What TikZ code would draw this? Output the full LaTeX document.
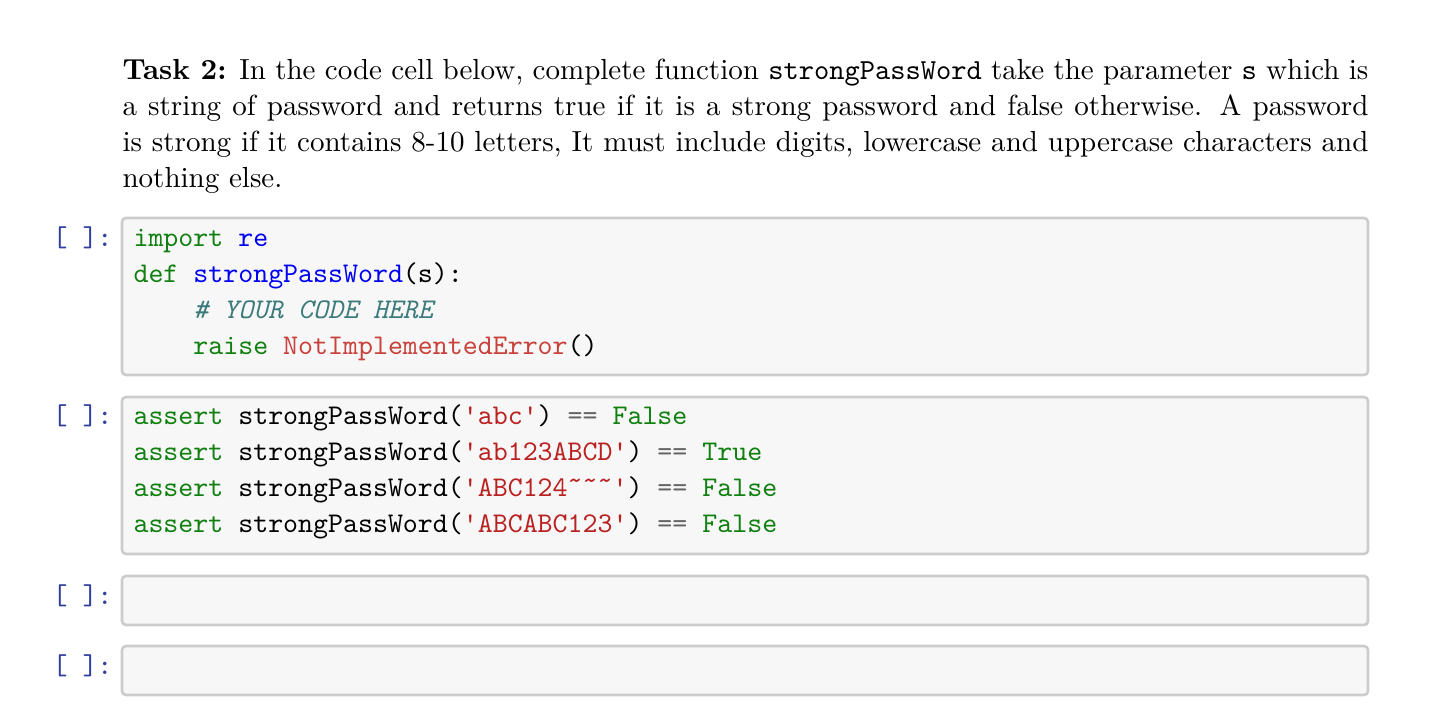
\documentclass[tikz,border=0pt]{standalone}
\usepackage{xcolor}
\definecolor{incolor}{HTML}{303F9F}
\definecolor{pykw}{HTML}{108010}
\definecolor{pynm}{HTML}{0000F0}
\definecolor{pycm}{HTML}{3D7B7B}
\definecolor{pyex}{HTML}{C8413A}
\definecolor{pyst}{HTML}{BA2121}
\definecolor{pyop}{HTML}{666666}
\definecolor{cellbg}{HTML}{F7F7F7}
\definecolor{cellbd}{HTML}{CCCCCC}
\newcommand\pyK[1]{\textcolor{pykw}{#1}}
\newcommand\pyN[1]{\textcolor{pynm}{#1}}
\newcommand\pyC[1]{\textcolor{pycm}{\itshape #1}}
\newcommand\pyE[1]{\textcolor{pyex}{#1}}
\newcommand\pyS[1]{\textcolor{pyst}{#1}}
\newcommand\pyO[1]{\textcolor{pyop}{#1}}
\newcommand\pyQ{\textquotesingle}
\newcommand\pyT{\raisebox{0.28em}{\textasciitilde}}
\begin{document}
\begin{tikzpicture}[x=0.377pt,y=-0.377pt,
  bodytext/.style={anchor=base west, inner sep=0pt, text width=469.7pt, align=justify, font=\fontsize{10.95}{13.6}\selectfont},
  code/.style={anchor=base west, inner sep=0pt, font=\fontsize{10.75}{13.6}\selectfont\ttfamily},
  prompt/.style={anchor=base east, inner sep=0pt, text=incolor, font=\fontsize{10.75}{13.6}\selectfont\ttfamily},
  cell/.style={draw=cellbd, fill=cellbg, line width=1pt, rounded corners=1.5pt}]
\useasboundingbox (0,0) rectangle (1450,714);
\fill[white] (0,0) rectangle (1450,714);

\node[bodytext] (task) at (122,79.3) {\textbf{Task 2:} In the code cell below, complete function \texttt{strongPassWord} take the parameter \texttt{s} which is a string of password and returns true if it is a strong password and false otherwise. A password is strong if it contains 8-10 letters, It must include digits, lowercase and uppercase characters and nothing else.};

% cell 1
\draw[cell] (122,218) rectangle (1368,375);
\node[prompt] (p1) at (113,247) {[ ]:};
\node[code] (l11) at (133,247) {\pyK{import} \pyN{re}};
\node[code] (l12) at (133,283) {\pyK{def} \pyN{strongPassWord}(s):};
\node[code] (l13) at (133,319) {\phantom{0000}\pyC{\#{} YOUR CODE HERE}};
\node[code] (l14) at (133,355) {\phantom{0000}\pyK{raise} \pyE{NotImplementedError}()};

% cell 2
\draw[cell] (122,397) rectangle (1368,554);
\node[prompt] (p2) at (113,425) {[ ]:};
\node[code] (l21) at (133,425) {\pyK{assert} strongPassWord(\pyS{\pyQ abc\pyQ}) \pyO{==} \pyK{False}};
\node[code] (l22) at (133,461) {\pyK{assert} strongPassWord(\pyS{\pyQ ab123ABCD\pyQ}) \pyO{==} \pyK{True}};
\node[code] (l23) at (133,497) {\pyK{assert} strongPassWord(\pyS{\pyQ ABC124\pyT\pyT\pyT\pyQ}) \pyO{==} \pyK{False}};
\node[code] (l24) at (133,533) {\pyK{assert} strongPassWord(\pyS{\pyQ ABCABC123\pyQ}) \pyO{==} \pyK{False}};

% cell 3
\draw[cell] (122,576) rectangle (1368,625);
\node[prompt] (p3) at (113,605) {[ ]:};

% cell 4
\draw[cell] (122,646) rectangle (1368,695);
\node[prompt] (p4) at (113,675) {[ ]:};
\end{tikzpicture}
\end{document}
